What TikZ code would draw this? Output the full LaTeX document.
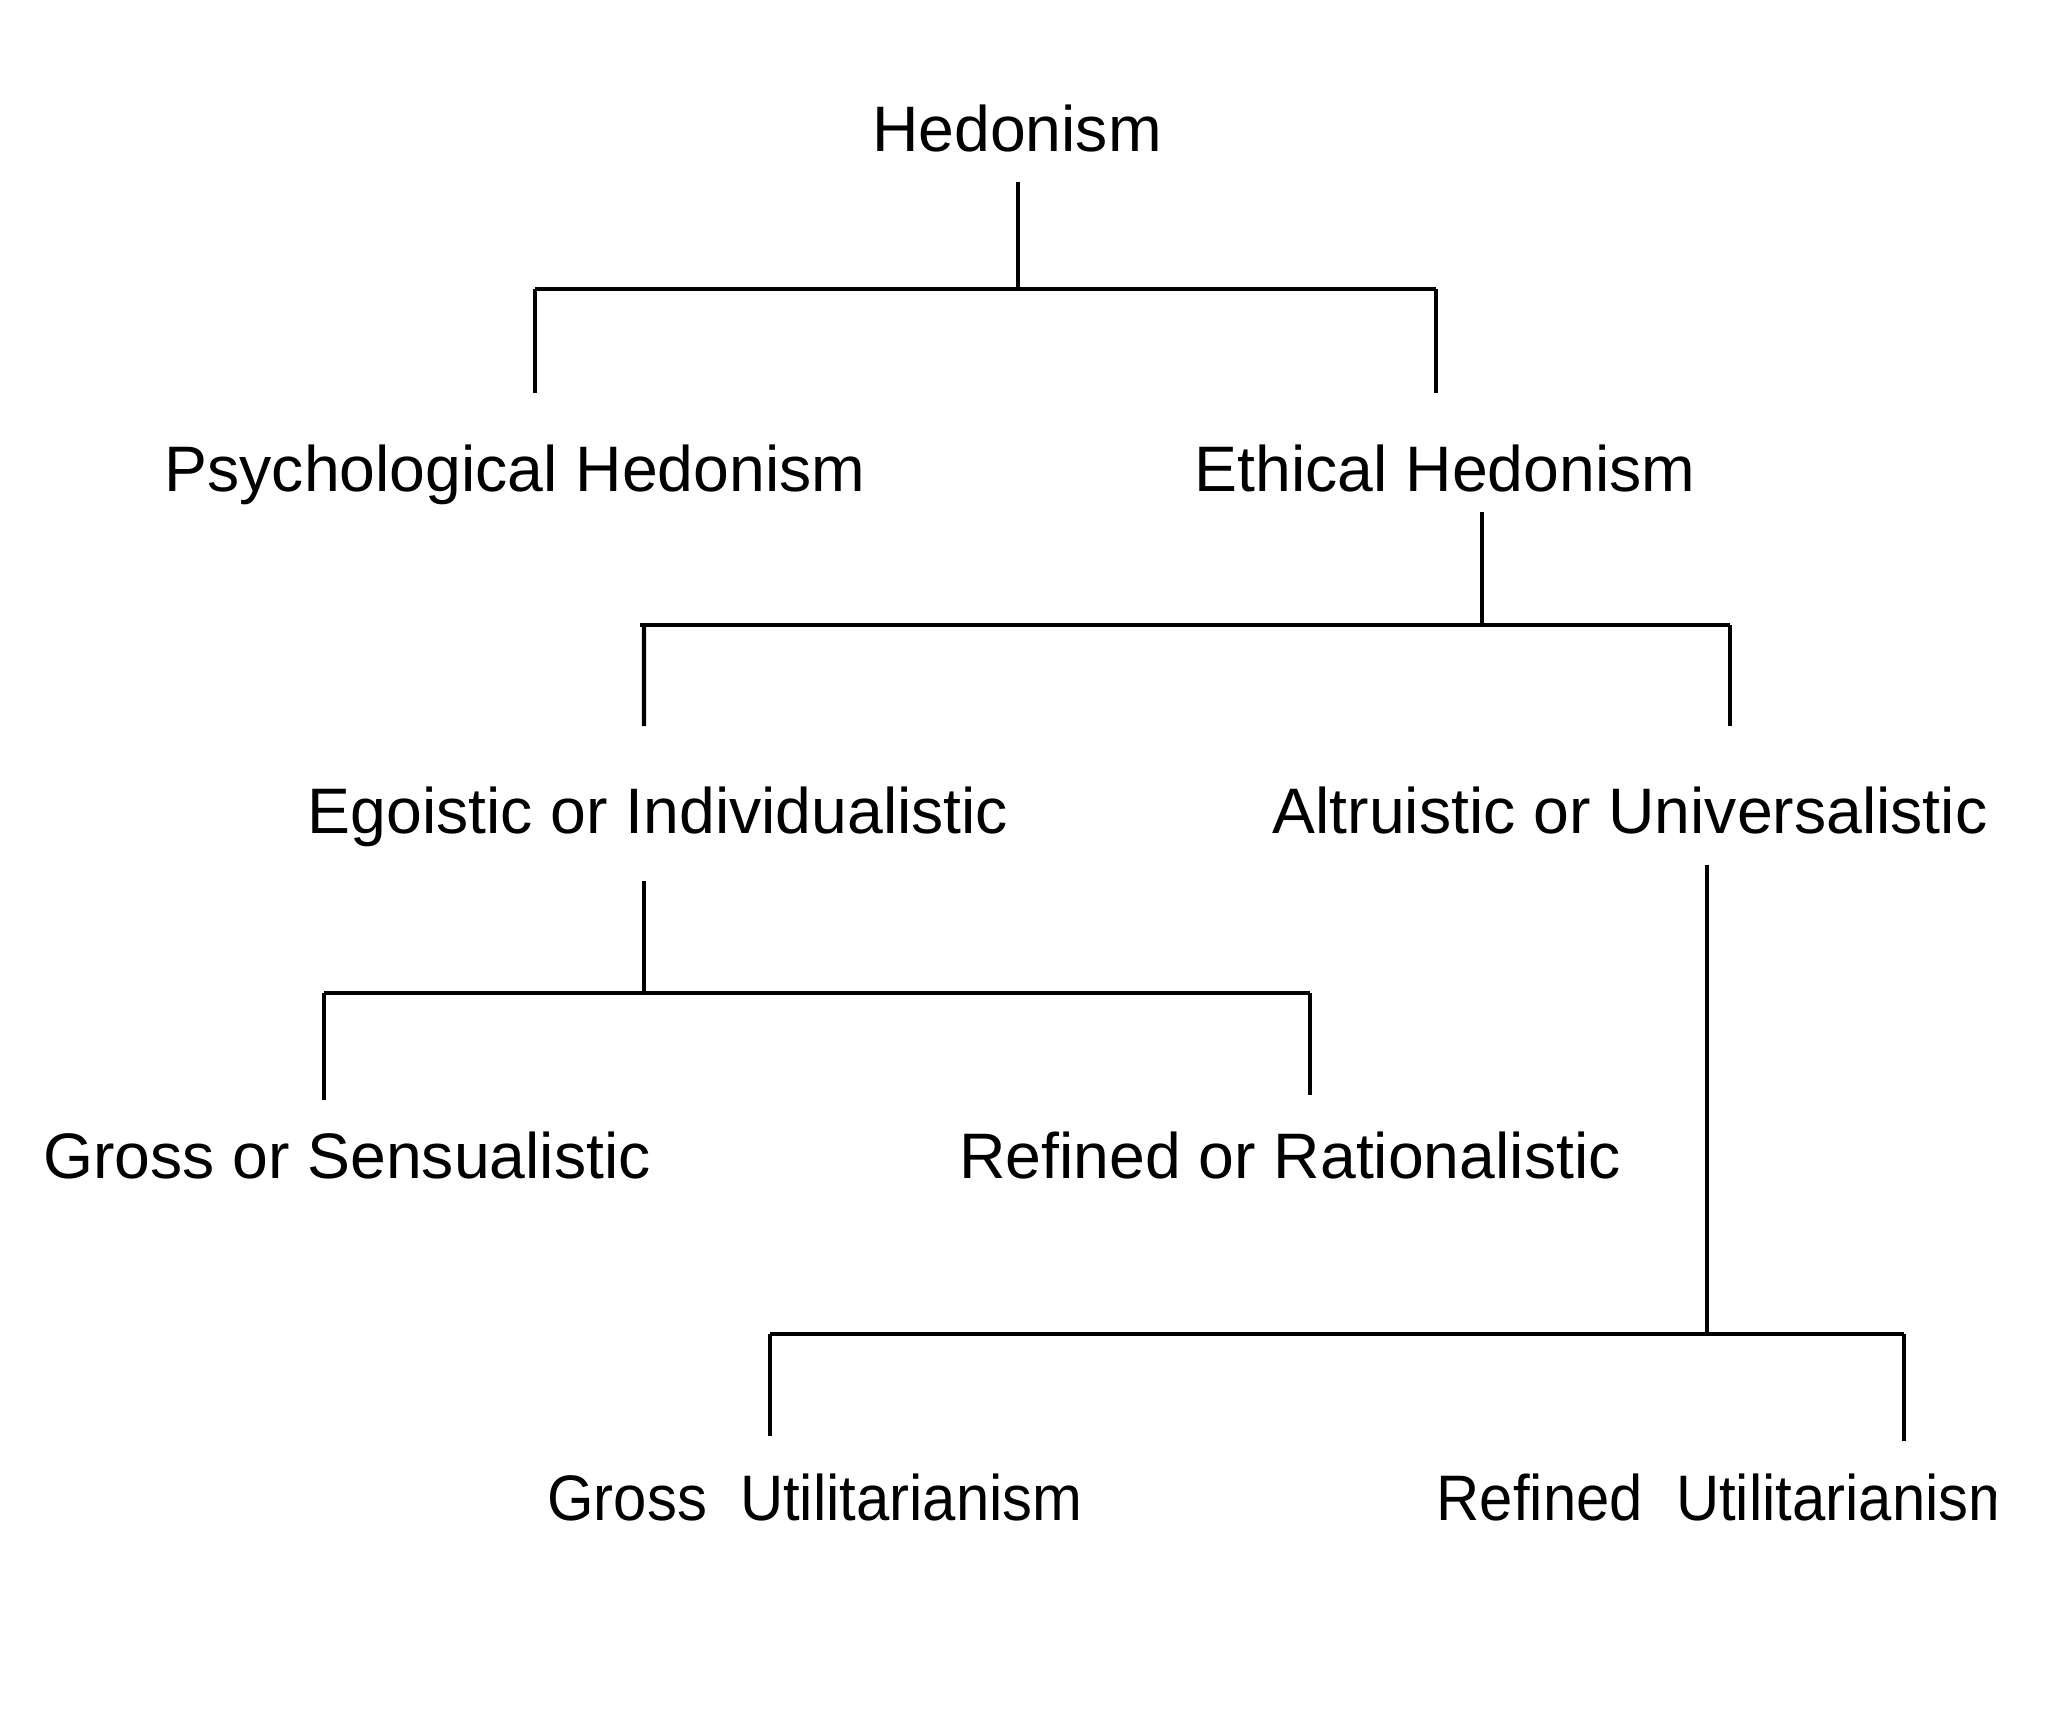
\documentclass[tikz,border=0pt]{standalone}
\usepackage{fontspec}
\setmainfont{Liberation Sans}
\begin{document}
\begin{tikzpicture}[x=1cm,y=1cm,
  lbl/.style={anchor=base,inner sep=0pt,font=\fontsize{18.3}{20}\selectfont},
  vline/.style={line width=1.2pt,black},
  hline/.style={line width=1.4pt,black}]
\useasboundingbox[fill=white] (0,0) rectangle (20.48,-17.16);
% labels
\node[lbl] (hed) at (10.17,-1.51) {Hedonism};
\node[lbl] (psy) at (5.15,-4.91) {Psychological Hedonism};
\node[lbl] (eth) at (14.45,-4.91) {Ethical Hedonism};
\node[lbl] (ego) at (6.58,-8.33) {Egoistic or Individualistic};
\node[lbl] (alt) at (16.30,-8.33) {Altruistic or Universalistic};
\node[lbl] (gs) at (3.47,-11.78) {Gross or Sensualistic};
\node[lbl] (rr) at (12.90,-11.78) {Refined or Rationalistic};
\node[lbl] (gu) at (8.15,-15.20) {\scalebox{0.93}[1]{Gross\ \ Utilitarianism}};
\begin{scope}
\clip (14.0,-14.0) rectangle (19.95,-16.0);
\node[lbl,anchor=base west] (ru) at (14.36,-15.20) {\scalebox{0.93}[1]{Refined\ \ Utilitarianism}};
\end{scope}
% junction coordinates
\coordinate (h0) at (10.18,-1.82);
\coordinate (h1) at (10.18,-2.89);
\coordinate (hL) at (5.35,-2.89);
\coordinate (hR) at (14.36,-2.89);
\coordinate (pT) at (5.35,-3.93);
\coordinate (eT) at (14.36,-3.93);
\coordinate (e0) at (14.82,-5.12);
\coordinate (e1) at (14.82,-6.25);
\coordinate (eL) at (6.40,-6.25);
\coordinate (eR) at (17.30,-6.25);
\coordinate (gT) at (6.44,-7.26);
\coordinate (aT) at (17.30,-7.26);
\coordinate (g0) at (6.44,-8.81);
\coordinate (g1) at (6.44,-9.93);
\coordinate (gL) at (3.24,-9.93);
\coordinate (gR) at (13.10,-9.93);
\coordinate (sT) at (3.24,-11.00);
\coordinate (rT) at (13.10,-10.95);
\coordinate (a0) at (17.07,-8.65);
\coordinate (a1) at (17.07,-13.34);
\coordinate (aL) at (7.70,-13.34);
\coordinate (aR) at (19.04,-13.34);
\coordinate (uT) at (7.70,-14.36);
\coordinate (vT) at (19.04,-14.41);
% connectors
\draw[vline] (h0) -- (h1);
\draw[hline] (hL) -- (hR);
\draw[vline] (hL) -- (pT);
\draw[vline] (hR) -- (eT);
\draw[vline] (e0) -- (e1);
\draw[hline] (eL) -- (eR);
\draw[vline] ([xshift=0.04cm]eL) -- (gT);
\draw[vline] (eR) -- (aT);
\draw[vline] (g0) -- (g1);
\draw[hline] (gL) -- (gR);
\draw[vline] (gL) -- (sT);
\draw[vline] (gR) -- (rT);
\draw[vline] (a0) -- (a1);
\draw[hline] (aL) -- (aR);
\draw[vline] (aL) -- (uT);
\draw[vline] (aR) -- (vT);
\end{tikzpicture}
\end{document}
